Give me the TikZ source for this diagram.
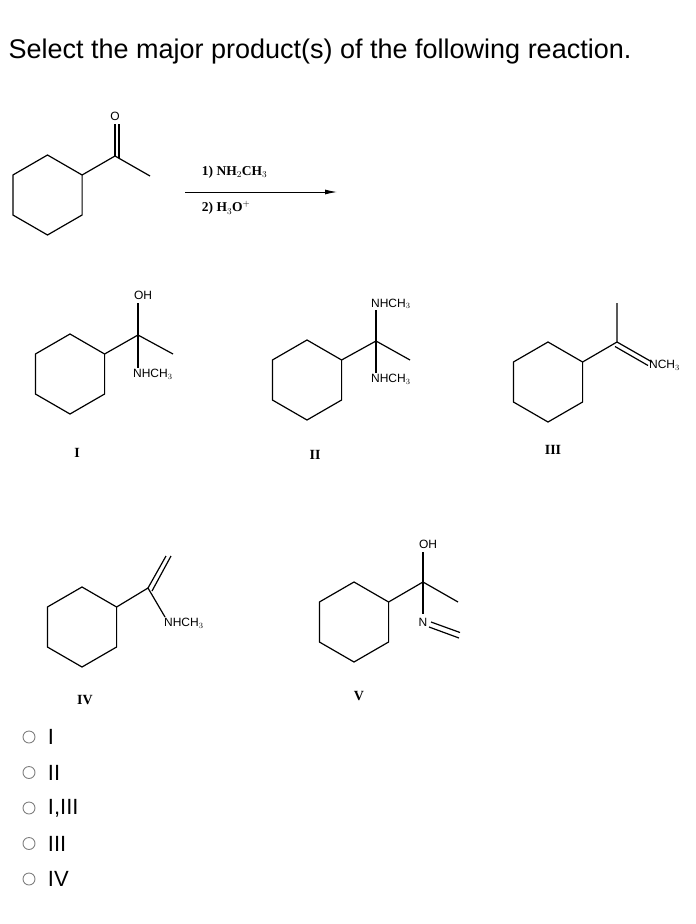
\documentclass[tikz,border=0pt]{standalone}
\usepackage{fontspec}
\setmainfont{Liberation Serif}
\setsansfont{Liberation Sans}
\usetikzlibrary{arrows.meta}
\begin{document}
\begin{tikzpicture}[x=1pt,y=-1pt,line width=1.2pt,
  lbl/.style={font=\sffamily\fontsize{12}{12}\selectfont,inner sep=0.5pt},
  rom/.style={font=\bfseries\fontsize{14}{14}\selectfont},
  opt/.style={font=\sffamily\fontsize{22}{22}\selectfont,anchor=west},
  radio/.style={draw=gray,line width=0.9pt,circle,minimum size=12pt,inner sep=0pt}]
\useasboundingbox (0,0) rectangle (696,924);
\newcommand\hexa[2]{\draw ({#1},{#2-40}) -- ({#1+34.6},{#2-20}) -- ({#1+34.6},{#2+20}) -- ({#1},{#2+40}) -- ({#1-34.6},{#2+20}) -- ({#1-34.6},{#2-20}) -- cycle;}
% title
\node[anchor=base west,inner sep=0,font=\sffamily\fontsize{27}{28}\selectfont] (title) at (8,58) {Select the major product(s) of the following reaction.};
% starting material
\hexa{47.5}{195}
\draw (82.1,175) -- (115,156) -- (150,176);
\draw (115,156) -- (115,124);
\draw (119,158) -- (119,124);
\node[lbl] (O) at (115,116) {O};
\coordinate (a1) at (185,192); \coordinate (a2) at (337,192);
\draw[line width=0.9pt,-{Latex[length=12pt,width=5pt]}] (a1) -- (a2);
\node[font=\bfseries\fontsize{13.5}{14}\selectfont,anchor=west] (r1) at (198,172) {1) NH$_2$CH$_3$};
\node[font=\bfseries\fontsize{13.5}{14}\selectfont,anchor=west] (r2) at (198,208) {2) H$_3$O$^+$};
% I
\hexa{70}{374}
\draw (104.6,354) -- (138,335) -- (173,354);
\draw (138,335) -- (138,303);
\draw (138,335) -- (138,368);
\node[lbl] (I1) at (143,295) {OH};
\node[lbl,anchor=north west] (I2) at (132,368) {NHCH$_3$};
\node[rom] (LI) at (77,453) {I};
% II
\hexa{307}{380}
\draw (341.6,360) -- (376,341) -- (410,360);
\draw (376,341) -- (376,310);
\draw (376,341) -- (376,373);
\node[lbl,anchor=south west] (II1) at (370,310) {NHCH$_3$};
\node[lbl,anchor=north west] (II2) at (370,373) {NHCH$_3$};
\node[rom] (LII) at (315,455) {II};
% III
\hexa{548}{382}
\draw (582.6,362) -- (617,342) -- (617,303);
\draw (617,342) -- (652,362);
\draw (615,346.5) -- (648,365.5);
\node[lbl,anchor=west] (III1) at (648,365) {NCH$_3$};
\node[rom] (LIII) at (553,450) {III};
% IV
\hexa{82}{627}
\draw (116.6,607) -- (148,588) -- (165,617);
\draw (148,588) -- (166,556);
\draw (152,591) -- (171,556);
\node[lbl,anchor=north west] (IV1) at (163,617) {NHCH$_3$};
\node[rom] (LIV) at (85,700) {IV};
% V
\hexa{354}{622}
\draw (388.6,602) -- (423,582) -- (458,602);
\draw (423,582) -- (423,552);
\draw (423,582) -- (423,614);
\node[lbl] (V1) at (428,544) {OH};
\node[lbl] (V2) at (423,622) {N};
\draw (429,627) -- (459,638);
\draw (431,622) -- (460,632.5);
\node[rom] (LV) at (359,696) {V};
% options
\foreach \t [count=\i] in {I,II,{I,III},III,IV}{
  \node[radio] (c\i) at (29,{701.5+35.5*\i}) {};
  \node[opt] (o\i) at (44,{701.5+35.5*\i}) {\t};
}
\end{tikzpicture}
\end{document}
